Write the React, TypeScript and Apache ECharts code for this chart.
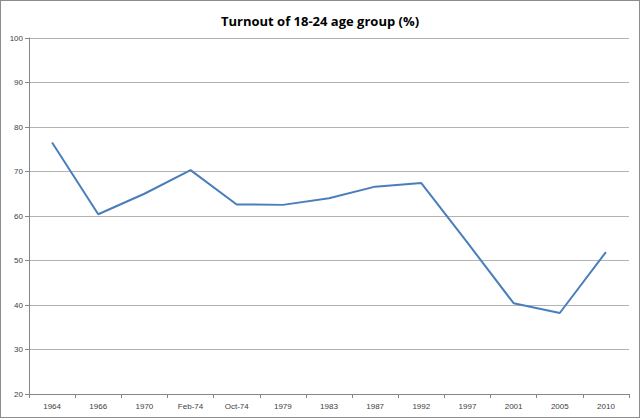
import React, { useEffect, useRef } from "react";
import * as echarts from "echarts";

const categories = ["1964", "1966", "1970", "Feb-74", "Oct-74", "1979", "1983", "1987", "1992", "1997", "2001", "2005", "2010"];
const turnout = [76.5, 60.4, 65.0, 70.3, 62.6, 62.5, 64.0, 66.6, 67.4, 54.0, 40.4, 38.2, 51.9];
const yTicks = { min: 20, max: 100, interval: 10 };
const title = "Turnout of 18-24 age group (%)";

export default function App() {
  const ref = useRef<HTMLDivElement>(null);
  useEffect(() => {
    document.body.style.margin = "0";
    if (!ref.current) return;
    const chart = echarts.init(ref.current, null, { renderer: "svg" });
    chart.setOption({
      animation: false,
      backgroundColor: "#ffffff",
      title: {
        text: title,
        left: "center",
        top: 8,
        textStyle: { fontFamily: "Open Sans", fontSize: 13, fontWeight: "bold", color: "#000" },
      },
      grid: { left: 28, right: 10, top: 37, bottom: 23 },
      xAxis: {
        type: "category",
        data: categories,
        boundaryGap: true,
        axisLine: { lineStyle: { color: "#868686", width: 1 } },
        axisTick: { show: true, length: 4, lineStyle: { color: "#868686" } },
        axisLabel: { fontFamily: "Liberation Sans", fontSize: 8, color: "#404040", margin: 8, interval: 0 },
      },
      yAxis: {
        type: "value",
        min: yTicks.min,
        max: yTicks.max,
        interval: yTicks.interval,
        axisLine: { show: true, lineStyle: { color: "#868686", width: 1 } },
        axisTick: { show: true, length: 4, lineStyle: { color: "#868686" } },
        axisLabel: { fontFamily: "Liberation Sans", fontSize: 8, color: "#404040", margin: 6 },
        splitLine: { show: true, lineStyle: { color: "#b3b3b3", width: 1 } },
      },
      series: [
        {
          type: "line",
          data: turnout,
          symbol: "none",
          lineStyle: { color: "#4a7ebb", width: 2 },
        },
      ],
    });
    return () => chart.dispose();
  }, []);
  return (
    <div
      ref={ref}
      style={{ width: 640, height: 418, boxSizing: "border-box", border: "1px solid #8c8c8c" }}
    />
  );
}
